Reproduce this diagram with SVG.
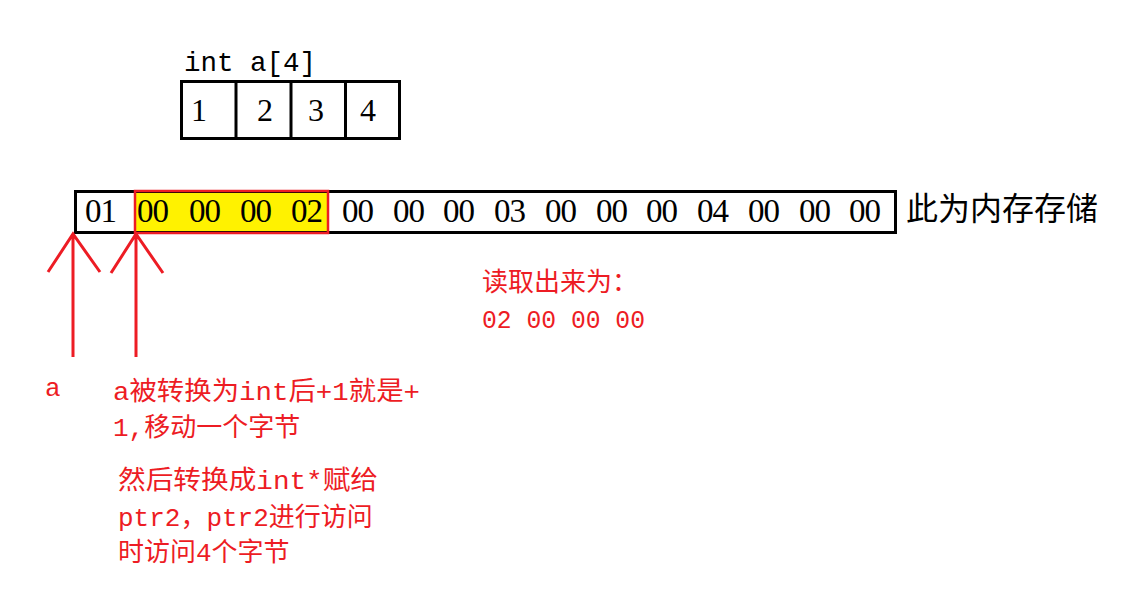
<svg xmlns="http://www.w3.org/2000/svg" width="1143" height="615" viewBox="0 0 1143 615">
<style>
.blk{fill:#000;font-family:"Liberation Serif","Noto Sans CJK SC",serif;}
.mono{font-family:"Liberation Mono","Noto Sans CJK SC",monospace;}
.red{fill:#ed1c24;font-family:"Liberation Mono","Noto Sans CJK SC",monospace;font-size:26px;}
.box{fill:none;stroke:#000;stroke-width:3;}
.arr{stroke:#ed1c24;stroke-width:3;fill:none;}
.byte{font-size:33px;}
</style>
<rect width="1143" height="615" fill="#fff"/>
<g id="array">
<text class="blk mono" x="184" y="71" font-size="27.5">int a[4]</text>
<rect class="box" x="181.5" y="81.5" width="218" height="57"/>
<line class="box" x1="236" y1="81" x2="236" y2="139"/>
<line class="box" x1="291" y1="81" x2="291" y2="139"/>
<line class="box" x1="345.5" y1="81" x2="345.5" y2="139"/>
<g class="blk" font-size="32">
<text x="191" y="121">1</text>
<text x="257" y="121">2</text>
<text x="308" y="121">3</text>
<text x="360" y="121">4</text>
</g>
</g>
<g id="memory">
<rect x="135" y="191" width="193" height="42" fill="#fff200"/>
<rect class="box" x="75.5" y="191.5" width="820" height="41"/>
<rect x="135" y="191" width="193" height="42" fill="none" stroke="#ed1c24" stroke-width="2.5"/>
<g class="blk byte" lengthAdjust="spacingAndGlyphs">
<text x="85" y="222" textLength="32">01</text>
<text x="137" y="222" textLength="32">00</text>
<text x="189" y="222" textLength="32">00</text>
<text x="240" y="222" textLength="32">00</text>
<text x="291" y="222" textLength="32">02</text>
<text x="342" y="222" textLength="32">00</text>
<text x="393" y="222" textLength="32">00</text>
<text x="443" y="222" textLength="32">00</text>
<text x="494" y="222" textLength="32">03</text>
<text x="545" y="222" textLength="32">00</text>
<text x="596" y="222" textLength="32">00</text>
<text x="646" y="222" textLength="32">00</text>
<text x="697" y="222" textLength="32">04</text>
<text x="748" y="222" textLength="32">00</text>
<text x="799" y="222" textLength="32">00</text>
<text x="849" y="222" textLength="32">00</text>
</g>
<text class="blk" x="906" y="220" font-size="32" font-family="'Noto Sans CJK SC',sans-serif">此为内存存储</text>
</g>
<g id="connectors">
<path class="arr" d="M73 234 V357 M48 272 L73 234 L100 272"/>
<path class="arr" d="M136 234 V357 M111 273 L136 234 L163 273"/>
</g>
<g id="labels">
<text class="red" x="45" y="396" font-size="30">a</text>
<text class="red" x="113" y="400" textLength="307" lengthAdjust="spacingAndGlyphs">a被转换为int后+1就是+</text>
<text class="red" x="113" y="436">1,移动一个字节</text>
<text class="red" x="118" y="489" textLength="260" lengthAdjust="spacingAndGlyphs">然后转换成int*赋给</text>
<text class="red" x="118" y="526">ptr2，ptr2进行访问</text>
<text class="red" x="118" y="561">时访问4个字节</text>
<text class="red" x="482" y="291">读取出来为：</text>
<text class="red" x="482" y="328" font-size="25" textLength="163" lengthAdjust="spacingAndGlyphs">02 00 00 00</text>
</g>
</svg>
